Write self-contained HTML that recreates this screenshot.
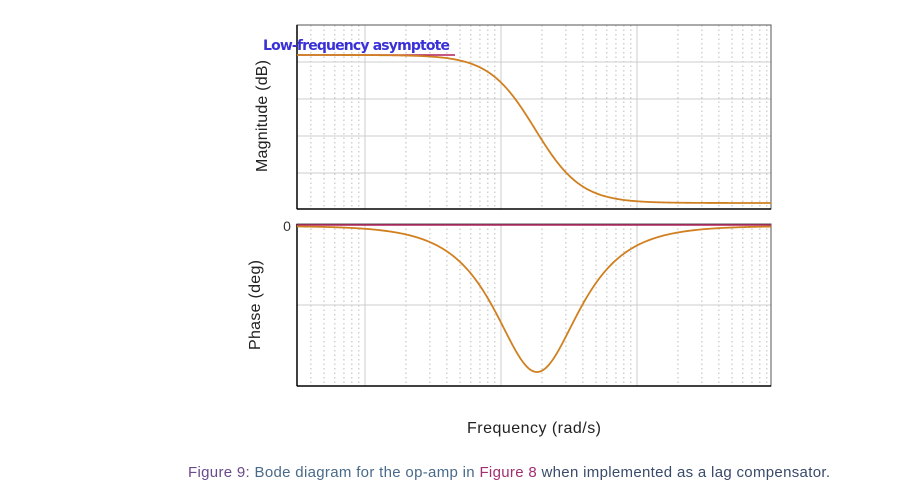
<!DOCTYPE html>
<html><head><meta charset="utf-8"><style>
html,body{margin:0;padding:0;background:#fff;width:915px;height:503px;overflow:hidden}
svg{display:block}
</style></head><body>
<svg id="s" width="915" height="503" xmlns="http://www.w3.org/2000/svg" font-family="Liberation Sans, sans-serif">
<g id="grid"></g>
<rect x="297" y="25" width="474" height="184" fill="none" stroke="#555" stroke-width="1"/>
<rect x="297" y="224" width="474" height="162" fill="none" stroke="#555" stroke-width="1"/>
<line x1="297" y1="25" x2="297" y2="209" stroke="#000" stroke-width="1.5"/>
<line x1="297" y1="209" x2="771" y2="209" stroke="#000" stroke-width="1.5"/>
<line x1="297" y1="224" x2="297" y2="386" stroke="#000" stroke-width="1.5"/>
<line x1="297" y1="386" x2="771" y2="386" stroke="#000" stroke-width="1.5"/>
<line x1="297" y1="55" x2="455" y2="55" stroke="#b0205a" stroke-width="1.5"/>
<line x1="297" y1="225" x2="771" y2="225" stroke="#b0205a" stroke-width="1.5"/>
<path id="mag" fill="none" stroke="#d08020" stroke-width="1.8"/>
<path id="ph" fill="none" stroke="#d08020" stroke-width="1.8"/>
<text x="263" y="50" font-family="DejaVu Sans, sans-serif" font-weight="bold" font-size="14" fill="#3a30d8" textLength="187">Low-frequency asymptote</text>
<text x="287" y="231" font-size="14" fill="#333" text-anchor="middle">0</text>
<text transform="translate(267,116) rotate(-90)" font-size="16" fill="#222" text-anchor="middle" textLength="112">Magnitude (dB)</text>
<text transform="translate(260,305) rotate(-90)" font-size="16" fill="#222" text-anchor="middle" textLength="90">Phase (deg)</text>
<text x="534" y="433" font-size="16" fill="#222" text-anchor="middle" textLength="134">Frequency  (rad/s)</text>
<text x="188" y="477" font-size="15" textLength="642" fill="#4a4a70"><tspan fill="#6a4a8a">Figure 9: </tspan><tspan fill="#4a6a8a">Bode diagram for the op-amp in </tspan><tspan fill="#a03070">Figure 8</tspan><tspan fill="#3a4a6a"> when implemented as a lag compensator.</tspan></text>
</svg>
<script>
var g=document.getElementById('grid'),h='';
function ln(x1,y1,x2,y2,c,d){h+='<line x1="'+x1+'" y1="'+y1+'" x2="'+x2+'" y2="'+y2+'" stroke="'+c+'" stroke-width="1"'+(d?' stroke-dasharray="1.5,3"':'')+'/>';}
for(var dec=-1;dec<3;dec++){for(var k=1;k<10;k++){var x=365+136*(dec+Math.log10(k));if(x<=297||x>=771)continue;
 if(k==1){ln(x,25,x,209,'#ccc');ln(x,224,x,386,'#ccc');}else{ln(x,25,x,209,'#bbb',1);ln(x,224,x,386,'#bbb',1);}}}
[62,99,136,173].forEach(function(y){ln(297,y,771,y,'#ccc');});
ln(297,305,771,305,'#ccc');
g.innerHTML=h;
var m='',p='';
for(var x=297;x<=771;x++){var y=129+74*Math.tanh((x-535)/46);m+=(x==297?'M':'L')+x+' '+y.toFixed(2);
 var d=(x-537)/37;var yp=226+146/Math.cosh(d);p+=(x==297?'M':'L')+x+' '+yp.toFixed(2);}
document.getElementById('mag').setAttribute('d',m);
document.getElementById('ph').setAttribute('d',p);
</script>
</body></html>
